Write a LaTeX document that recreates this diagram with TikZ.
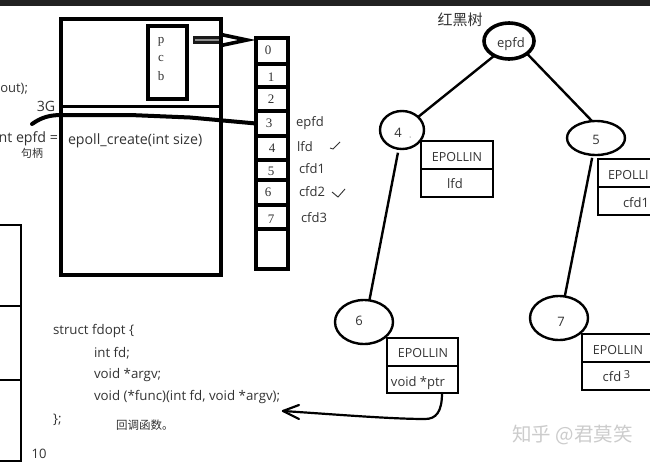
\documentclass[tikz,border=0pt]{standalone}
\usepackage{fontspec}
\setmainfont{Open Sans}
\newfontfamily\cjk{Noto Sans CJK SC}
\newfontfamily\serifd{Liberation Serif}
\usetikzlibrary{shapes.geometric,arrows.meta,calc}
\definecolor{ink}{HTML}{333333}
\definecolor{bar}{HTML}{222222}
\tikzset{
  txt/.style={inner sep=0pt,outer sep=0pt,text=ink,font=\fontsize{13}{15}\selectfont},
  bigtxt/.style={txt,font=\fontsize{14.2}{16}\selectfont},
  codetxt/.style={txt,anchor=west,font=\fontsize{13.3}{15}\selectfont},
  tabtxt/.style={txt,font=\fontsize{12.5}{15}\selectfont},
  cjktxt/.style={inner sep=0pt,outer sep=0pt,text=ink,font=\cjk\fontsize{14}{16}\selectfont},
  mono/.style={inner sep=0pt,outer sep=0pt,text=ink,font=\serifd\fontsize{13}{15}\selectfont},
  heavybox/.style={draw=black,line width=4pt,inner sep=0pt,outer sep=0pt,fill=white},
  cellbox/.style={heavybox,minimum width=32pt},
  tablecell/.style={draw=black,line width=2.4pt,inner sep=0pt,outer sep=0pt,fill=white},
  treenode/.style={ellipse,draw=black,line width=2.4pt,inner sep=0pt,outer sep=0pt,fill=white},
  treeedge/.style={draw=black,line width=2.4pt},
  leftbox/.style={draw=black,line width=2.6pt,inner sep=0pt,outer sep=0pt,minimum width=42pt},
}
\begin{document}
\begin{tikzpicture}[x=1pt,y=-1pt]
\path[use as bounding box,clip] (0,0) rectangle (650,463);
\fill[white] (0,0) rectangle (650,463);
\fill[bar] (0,0) rectangle (650,6);

% left cut-off table
\node[leftbox,minimum height=81pt] (la) at (0,265.5) {};
\node[leftbox,minimum height=74pt] (lb) at (0,343) {};
\node[leftbox,minimum height=81pt] (lc) at (0,420.5) {};

% process box
\node[heavybox,minimum width=160pt,minimum height=256pt] (proc) at (141,147) {};
\draw[line width=3pt] (proc.west |- 0,106) -- (proc.east |- 0,106);
\node[heavybox,minimum width=39pt,minimum height=73pt] (pcb) at (167.5,62.5) {};
\node[mono] (pp) at (161,42) {p};
\node[mono] (pc) at (161,59) {c};
\node[mono] (pb) at (161,76) {b};

% fd table
\node[cellbox,minimum height=26pt] (c0) at (272,51) {};
\node[cellbox,minimum height=23pt] (c1) at (272,75.5) {};
\node[cellbox,minimum height=24pt] (c2) at (272,99) {};
\node[cellbox,minimum height=25pt] (c3) at (272,123.5) {};
\node[cellbox,minimum height=24pt] (c4) at (272,148) {};
\node[cellbox,minimum height=20pt] (c5) at (272,170) {};
\node[cellbox,minimum height=25pt] (c6) at (272,192.5) {};
\node[cellbox,minimum height=24pt] (c7) at (272,217) {};
\node[cellbox,minimum height=40pt] (c8) at (272,249) {};
\node[mono] (n0) at (268,50) {0};
\node[mono] (n1) at (271,77) {1};
\node[mono] (n2) at (271,99) {2};
\node[mono] (n3) at (269,123) {3};
\node[mono] (n4) at (272,148) {4};
\node[mono] (n5) at (271,171) {5};
\node[mono] (n6) at (268,192) {6};
\node[mono] (n7) at (271,219) {7};

% block arrow pcb -> table
\draw[draw=black!90,line width=8pt] ($(pcb.east |- c0)+(6,-11)$) -- ++(28,0) coordinate (sh);
\draw[draw=black!45,line width=1.6pt] (195,40) -- (sh);
\coordinate (tip) at ($(c0.west)+(-9,-11)$);
\draw[black,line width=3.6pt,line join=miter,fill=white] (221,34.5) -- (tip) -- (221,45.5) -- cycle;

% labels
\node[txt,anchor=east] (t1) at (28,89) {out);};
\node[bigtxt] (t2) at (46,106) {3G};
\node[bigtxt,anchor=east] (t3) at (58,139) {nt epfd =};
\node[cjktxt,font=\cjk\fontsize{11}{13}\selectfont] (t4) at (32,153) {句柄};
\node[bigtxt,anchor=west] (t5) at (68,141) {epoll\_create(int size)};
\node[txt] (t6) at (310,123.5) {epfd};
\node[txt] (t7) at (305,147) {lfd};
\node[txt] (t8) at (312,169) {cfd1};
\node[txt] (t9) at (312,192) {cfd2};
\node[txt] (t10) at (314,218) {cfd3};
\node[txt] (t11) at (39,454) {10};

% return curve
\coordinate (cstart) at (32,124);
\draw[line width=4pt,line cap=round,draw=black] (cstart) .. controls (42,117) and (50,115) .. (62,115) -- (130,115) -- (190,117.5) -- (c3.west);

% checks
\draw[ink,line width=0.9pt] (330,148) -- (333,149) -- (340,142);
\draw[ink,line width=0.9pt] (332,192) -- (338,197) -- (345,189);

% struct
\node[codetxt] (s1) at (53,331.5) {struct fdopt \{};
\node[codetxt] (s2) at (94,353) {int fd;};
\node[codetxt] (s3) at (94,375.5) {void *argv;};
\node[codetxt] (s4) at (94,397.5) {void (*func)(int fd, void *argv);};
\node[codetxt] (s5) at (53,420) {\};};
\node[cjktxt,anchor=west,font=\cjk\fontsize{11.5}{13}\selectfont] (s6) at (116,425) {回调函数。};

% tree
\node[cjktxt,font=\cjk\fontsize{15}{17}\selectfont] (title) at (460,20) {红黑树};
\node[treenode,line width=3.6pt,minimum width=50pt,minimum height=36pt] (root) at (509,41) {};
\node[txt] at (511,44) {epfd};
\node[treenode,minimum width=44pt,minimum height=38pt] (n4e) at (402,130) {};
\node[txt] at (398,133) {4};
\fill[ink] (410,137) circle (0.5pt);
\node[treenode,minimum width=58pt,minimum height=34pt] (n5e) at (596,138) {};
\node[txt] at (596,140) {5};
\node[treenode,minimum width=58pt,minimum height=44pt] (n6e) at (364,322) {};
\node[txt] at (359,321) {6};
\node[treenode,minimum width=58pt,minimum height=44pt] (n7e) at (559,318) {};
\node[txt] at (561,322) {7};

\draw[treeedge] (root.225) -- (n4e.39);
\draw[treeedge] (root.-35) -- (n5e.103);
\draw[treeedge,shorten <=4pt] (n4e.260) -- (n6e.76);
\draw[treeedge,shorten <=3pt] (n5e.259) -- (n7e.75);

% tables
\node[tablecell,minimum width=72pt,minimum height=28pt] (a1) at (457,155) {};
\node[tablecell,minimum width=72pt,minimum height=28pt] (a2) at (457,183) {};
\node[tabtxt] at (457,157) {EPOLLIN};
\node[txt] at (455,184) {lfd};

\node[tablecell,minimum width=72pt,minimum height=28pt] (b1) at (634,173) {};
\node[tablecell,minimum width=72pt,minimum height=28pt] (b2) at (634,201) {};
\node[tabtxt,anchor=west] at (608,175) {EPOLLI};
\node[txt,anchor=west] at (623,203) {cfd1};

\node[tablecell,minimum width=71pt,minimum height=28pt] (d1) at (422.5,352) {};
\node[tablecell,minimum width=71pt,minimum height=27pt] (d2) at (422.5,379.5) {};
\node[tabtxt] at (423,353) {EPOLLIN};
\node[txt] at (418,383) {void *ptr};

\node[tablecell,minimum width=72pt,minimum height=28pt] (e1) at (618,348) {};
\node[tablecell,minimum width=72pt,minimum height=28pt] (e2) at (618,376) {};
\node[tabtxt] at (618,350) {EPOLLIN};
\node[txt] at (612,377) {cfd};
\node[txt,font=\fontsize{11}{12}\selectfont] at (627,375) {3};

% callback arrow
\coordinate (cbend) at (283,411);
\draw[line width=2.2pt,line cap=round] ($(d2.south)+(19.5,0)$) .. controls (442,412) and (436,419) .. (425,419) .. controls (390,419) and (330,414) .. (cbend);
\draw[line width=2.2pt,line cap=round,line join=round] (299,405) -- (cbend) -- (299,419);

% watermark
\node[inner sep=0pt,text=black!20,font=\cjk\fontsize{19.5}{21}\selectfont] (wm) at (572.5,435) {知乎 @君莫笑};
\end{tikzpicture}
\end{document}
